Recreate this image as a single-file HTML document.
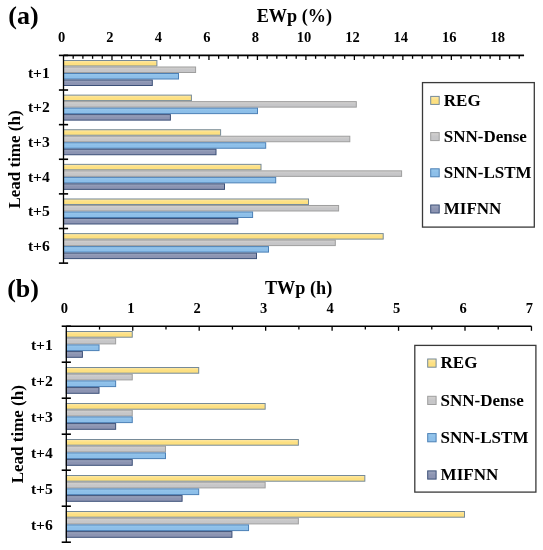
<!DOCTYPE html>
<html><head><meta charset="utf-8"><title>Chart</title>
<style>
html,body{margin:0;padding:0;background:#fff;}
body{width:543px;height:550px;overflow:hidden;}
svg{display:block;}
text{font-family:"Liberation Serif", "Times New Roman", serif;font-weight:bold;fill:#000;}
.tl{font-size:14.5px;}
.yl{font-size:15.6px;}
.lead{font-size:17px;}
.title{font-size:18.2px;}
.lab{font-size:26px;}
.lg{font-size:17px;}
</style></head><body>
<svg width="543" height="550" viewBox="0 0 543 550">
<defs>
<linearGradient id="gY" x1="0" y1="0" x2="0" y2="1"><stop offset="0" stop-color="#FDE9AA"/><stop offset="0.5" stop-color="#FDE081"/><stop offset="1" stop-color="#FDE081"/></linearGradient>
<linearGradient id="gG" x1="0" y1="0" x2="0" y2="1"><stop offset="0" stop-color="#D4D2D0"/><stop offset="0.5" stop-color="#C6C6C8"/><stop offset="1" stop-color="#C6C6C8"/></linearGradient>
<linearGradient id="gB" x1="0" y1="0" x2="0" y2="1"><stop offset="0" stop-color="#98C8EC"/><stop offset="0.5" stop-color="#8DBFE9"/><stop offset="1" stop-color="#8DBFE9"/></linearGradient>
<linearGradient id="gD" x1="0" y1="0" x2="0" y2="1"><stop offset="0" stop-color="#9EA7BF"/><stop offset="0.5" stop-color="#8C94B2"/><stop offset="1" stop-color="#8C94B2"/></linearGradient>
</defs>
<rect x="63.5" y="60.5" width="93.4" height="5.5" fill="url(#gY)" stroke="#768A98" stroke-width="1"/>
<rect x="63.5" y="67" width="132.1" height="5.5" fill="url(#gG)" stroke="#9E9E9E" stroke-width="1"/>
<rect x="63.5" y="73.5" width="115" height="5.5" fill="url(#gB)" stroke="#4C80B6" stroke-width="1"/>
<rect x="63.5" y="80" width="88.8" height="5.5" fill="url(#gD)" stroke="#3C5078" stroke-width="1"/>
<rect x="63.5" y="95.12" width="127.9" height="5.5" fill="url(#gY)" stroke="#768A98" stroke-width="1"/>
<rect x="63.5" y="101.62" width="292.8" height="5.5" fill="url(#gG)" stroke="#9E9E9E" stroke-width="1"/>
<rect x="63.5" y="108.12" width="194" height="5.5" fill="url(#gB)" stroke="#4C80B6" stroke-width="1"/>
<rect x="63.5" y="114.62" width="106.9" height="5.5" fill="url(#gD)" stroke="#3C5078" stroke-width="1"/>
<rect x="63.5" y="129.74" width="157.1" height="5.5" fill="url(#gY)" stroke="#768A98" stroke-width="1"/>
<rect x="63.5" y="136.24" width="286.3" height="5.5" fill="url(#gG)" stroke="#9E9E9E" stroke-width="1"/>
<rect x="63.5" y="142.74" width="202.2" height="5.5" fill="url(#gB)" stroke="#4C80B6" stroke-width="1"/>
<rect x="63.5" y="149.24" width="152.5" height="5.5" fill="url(#gD)" stroke="#3C5078" stroke-width="1"/>
<rect x="63.5" y="164.36" width="197.5" height="5.5" fill="url(#gY)" stroke="#768A98" stroke-width="1"/>
<rect x="63.5" y="170.86" width="338.1" height="5.5" fill="url(#gG)" stroke="#9E9E9E" stroke-width="1"/>
<rect x="63.5" y="177.36" width="212.2" height="5.5" fill="url(#gB)" stroke="#4C80B6" stroke-width="1"/>
<rect x="63.5" y="183.86" width="161" height="5.5" fill="url(#gD)" stroke="#3C5078" stroke-width="1"/>
<rect x="63.5" y="198.98" width="245" height="5.5" fill="url(#gY)" stroke="#768A98" stroke-width="1"/>
<rect x="63.5" y="205.48" width="275.1" height="5.5" fill="url(#gG)" stroke="#9E9E9E" stroke-width="1"/>
<rect x="63.5" y="211.98" width="189.1" height="5.5" fill="url(#gB)" stroke="#4C80B6" stroke-width="1"/>
<rect x="63.5" y="218.48" width="174.3" height="5.5" fill="url(#gD)" stroke="#3C5078" stroke-width="1"/>
<rect x="63.5" y="233.6" width="319.7" height="5.5" fill="url(#gY)" stroke="#768A98" stroke-width="1"/>
<rect x="63.5" y="240.1" width="271.8" height="5.5" fill="url(#gG)" stroke="#9E9E9E" stroke-width="1"/>
<rect x="63.5" y="246.6" width="205" height="5.5" fill="url(#gB)" stroke="#4C80B6" stroke-width="1"/>
<rect x="63.5" y="253.1" width="193" height="5.5" fill="url(#gD)" stroke="#3C5078" stroke-width="1"/>
<line x1="63.5" y1="55.4" x2="524.06" y2="55.4" stroke="#000" stroke-width="1.6"/>
<line x1="63.5" y1="55.4" x2="63.5" y2="263.12" stroke="#000" stroke-width="1.3"/>
<line x1="73.2" y1="55.4" x2="73.2" y2="58.8" stroke="#000" stroke-width="1.3"/>
<line x1="82.89" y1="55.4" x2="82.89" y2="58.8" stroke="#000" stroke-width="1.3"/>
<line x1="92.59" y1="55.4" x2="92.59" y2="58.8" stroke="#000" stroke-width="1.3"/>
<line x1="102.28" y1="55.4" x2="102.28" y2="58.8" stroke="#000" stroke-width="1.3"/>
<line x1="111.98" y1="55.4" x2="111.98" y2="60" stroke="#000" stroke-width="1.3"/>
<line x1="121.68" y1="55.4" x2="121.68" y2="58.8" stroke="#000" stroke-width="1.3"/>
<line x1="131.37" y1="55.4" x2="131.37" y2="58.8" stroke="#000" stroke-width="1.3"/>
<line x1="141.07" y1="55.4" x2="141.07" y2="58.8" stroke="#000" stroke-width="1.3"/>
<line x1="150.76" y1="55.4" x2="150.76" y2="58.8" stroke="#000" stroke-width="1.3"/>
<line x1="160.46" y1="55.4" x2="160.46" y2="60" stroke="#000" stroke-width="1.3"/>
<line x1="170.16" y1="55.4" x2="170.16" y2="58.8" stroke="#000" stroke-width="1.3"/>
<line x1="179.85" y1="55.4" x2="179.85" y2="58.8" stroke="#000" stroke-width="1.3"/>
<line x1="189.55" y1="55.4" x2="189.55" y2="58.8" stroke="#000" stroke-width="1.3"/>
<line x1="199.24" y1="55.4" x2="199.24" y2="58.8" stroke="#000" stroke-width="1.3"/>
<line x1="208.94" y1="55.4" x2="208.94" y2="60" stroke="#000" stroke-width="1.3"/>
<line x1="218.64" y1="55.4" x2="218.64" y2="58.8" stroke="#000" stroke-width="1.3"/>
<line x1="228.33" y1="55.4" x2="228.33" y2="58.8" stroke="#000" stroke-width="1.3"/>
<line x1="238.03" y1="55.4" x2="238.03" y2="58.8" stroke="#000" stroke-width="1.3"/>
<line x1="247.72" y1="55.4" x2="247.72" y2="58.8" stroke="#000" stroke-width="1.3"/>
<line x1="257.42" y1="55.4" x2="257.42" y2="60" stroke="#000" stroke-width="1.3"/>
<line x1="267.12" y1="55.4" x2="267.12" y2="58.8" stroke="#000" stroke-width="1.3"/>
<line x1="276.81" y1="55.4" x2="276.81" y2="58.8" stroke="#000" stroke-width="1.3"/>
<line x1="286.51" y1="55.4" x2="286.51" y2="58.8" stroke="#000" stroke-width="1.3"/>
<line x1="296.2" y1="55.4" x2="296.2" y2="58.8" stroke="#000" stroke-width="1.3"/>
<line x1="305.9" y1="55.4" x2="305.9" y2="60" stroke="#000" stroke-width="1.3"/>
<line x1="315.6" y1="55.4" x2="315.6" y2="58.8" stroke="#000" stroke-width="1.3"/>
<line x1="325.29" y1="55.4" x2="325.29" y2="58.8" stroke="#000" stroke-width="1.3"/>
<line x1="334.99" y1="55.4" x2="334.99" y2="58.8" stroke="#000" stroke-width="1.3"/>
<line x1="344.68" y1="55.4" x2="344.68" y2="58.8" stroke="#000" stroke-width="1.3"/>
<line x1="354.38" y1="55.4" x2="354.38" y2="60" stroke="#000" stroke-width="1.3"/>
<line x1="364.08" y1="55.4" x2="364.08" y2="58.8" stroke="#000" stroke-width="1.3"/>
<line x1="373.77" y1="55.4" x2="373.77" y2="58.8" stroke="#000" stroke-width="1.3"/>
<line x1="383.47" y1="55.4" x2="383.47" y2="58.8" stroke="#000" stroke-width="1.3"/>
<line x1="393.16" y1="55.4" x2="393.16" y2="58.8" stroke="#000" stroke-width="1.3"/>
<line x1="402.86" y1="55.4" x2="402.86" y2="60" stroke="#000" stroke-width="1.3"/>
<line x1="412.56" y1="55.4" x2="412.56" y2="58.8" stroke="#000" stroke-width="1.3"/>
<line x1="422.25" y1="55.4" x2="422.25" y2="58.8" stroke="#000" stroke-width="1.3"/>
<line x1="431.95" y1="55.4" x2="431.95" y2="58.8" stroke="#000" stroke-width="1.3"/>
<line x1="441.64" y1="55.4" x2="441.64" y2="58.8" stroke="#000" stroke-width="1.3"/>
<line x1="451.34" y1="55.4" x2="451.34" y2="60" stroke="#000" stroke-width="1.3"/>
<line x1="461.04" y1="55.4" x2="461.04" y2="58.8" stroke="#000" stroke-width="1.3"/>
<line x1="470.73" y1="55.4" x2="470.73" y2="58.8" stroke="#000" stroke-width="1.3"/>
<line x1="480.43" y1="55.4" x2="480.43" y2="58.8" stroke="#000" stroke-width="1.3"/>
<line x1="490.12" y1="55.4" x2="490.12" y2="58.8" stroke="#000" stroke-width="1.3"/>
<line x1="499.82" y1="55.4" x2="499.82" y2="60" stroke="#000" stroke-width="1.3"/>
<line x1="509.52" y1="55.4" x2="509.52" y2="58.8" stroke="#000" stroke-width="1.3"/>
<line x1="519.21" y1="55.4" x2="519.21" y2="58.8" stroke="#000" stroke-width="1.3"/>
<line x1="58.9" y1="55.4" x2="68.1" y2="55.4" stroke="#000" stroke-width="1.6"/>
<line x1="58.9" y1="90.02" x2="68.1" y2="90.02" stroke="#000" stroke-width="1.6"/>
<line x1="58.9" y1="124.64" x2="68.1" y2="124.64" stroke="#000" stroke-width="1.6"/>
<line x1="58.9" y1="159.26" x2="68.1" y2="159.26" stroke="#000" stroke-width="1.6"/>
<line x1="58.9" y1="193.88" x2="68.1" y2="193.88" stroke="#000" stroke-width="1.6"/>
<line x1="58.9" y1="228.5" x2="68.1" y2="228.5" stroke="#000" stroke-width="1.6"/>
<line x1="58.9" y1="263.12" x2="68.1" y2="263.12" stroke="#000" stroke-width="1.6"/>
<text x="61.5" y="42" class="tl" text-anchor="middle">0</text>
<text x="109.98" y="42" class="tl" text-anchor="middle">2</text>
<text x="158.46" y="42" class="tl" text-anchor="middle">4</text>
<text x="206.94" y="42" class="tl" text-anchor="middle">6</text>
<text x="255.42" y="42" class="tl" text-anchor="middle">8</text>
<text x="303.9" y="42" class="tl" text-anchor="middle">10</text>
<text x="352.38" y="42" class="tl" text-anchor="middle">12</text>
<text x="400.86" y="42" class="tl" text-anchor="middle">14</text>
<text x="449.34" y="42" class="tl" text-anchor="middle">16</text>
<text x="497.82" y="42" class="tl" text-anchor="middle">18</text>
<text x="49.8" y="77.71" class="yl" text-anchor="end">t+1</text>
<text x="49.8" y="112.33" class="yl" text-anchor="end">t+2</text>
<text x="49.8" y="146.95" class="yl" text-anchor="end">t+3</text>
<text x="49.8" y="181.57" class="yl" text-anchor="end">t+4</text>
<text x="49.8" y="216.19" class="yl" text-anchor="end">t+5</text>
<text x="49.8" y="250.81" class="yl" text-anchor="end">t+6</text>
<text transform="translate(20.3,159.5) rotate(-90)" x="0" y="0" class="lead" text-anchor="middle">Lead time (h)</text>
<text x="294.3" y="21.6" class="title" text-anchor="middle">EWp (%)</text>
<text x="8.3" y="23.5" class="lab">(a)</text>
<rect x="422.5" y="82.6" width="111.8" height="144.5" fill="#fff" stroke="#3a3a3a" stroke-width="1.3"/>
<rect x="430.7" y="96.4" width="8.5" height="8" fill="url(#gY)" stroke="#768A98" stroke-width="1"/>
<text x="443.8" y="105.8" class="lg">REG</text>
<rect x="430.7" y="132.6" width="8.5" height="8" fill="url(#gG)" stroke="#9E9E9E" stroke-width="1"/>
<text x="443.8" y="142" class="lg">SNN-Dense</text>
<rect x="430.7" y="168.8" width="8.5" height="8" fill="url(#gB)" stroke="#4C80B6" stroke-width="1"/>
<text x="443.8" y="178.2" class="lg">SNN-LSTM</text>
<rect x="430.7" y="205" width="8.5" height="8" fill="url(#gD)" stroke="#3C5078" stroke-width="1"/>
<text x="443.8" y="214.4" class="lg">MIFNN</text>
<rect x="66.3" y="331.5" width="65.95" height="5.7" fill="url(#gY)" stroke="#768A98" stroke-width="1"/>
<rect x="66.3" y="338.2" width="49.34" height="5.7" fill="url(#gG)" stroke="#9E9E9E" stroke-width="1"/>
<rect x="66.3" y="344.9" width="32.73" height="5.7" fill="url(#gB)" stroke="#4C80B6" stroke-width="1"/>
<rect x="66.3" y="351.6" width="16.11" height="5.7" fill="url(#gD)" stroke="#3C5078" stroke-width="1"/>
<rect x="66.3" y="367.5" width="132.4" height="5.7" fill="url(#gY)" stroke="#768A98" stroke-width="1"/>
<rect x="66.3" y="374.2" width="65.95" height="5.7" fill="url(#gG)" stroke="#9E9E9E" stroke-width="1"/>
<rect x="66.3" y="380.9" width="49.34" height="5.7" fill="url(#gB)" stroke="#4C80B6" stroke-width="1"/>
<rect x="66.3" y="387.6" width="32.73" height="5.7" fill="url(#gD)" stroke="#3C5078" stroke-width="1"/>
<rect x="66.3" y="403.5" width="198.85" height="5.7" fill="url(#gY)" stroke="#768A98" stroke-width="1"/>
<rect x="66.3" y="410.2" width="65.95" height="5.7" fill="url(#gG)" stroke="#9E9E9E" stroke-width="1"/>
<rect x="66.3" y="416.9" width="65.95" height="5.7" fill="url(#gB)" stroke="#4C80B6" stroke-width="1"/>
<rect x="66.3" y="423.6" width="49.34" height="5.7" fill="url(#gD)" stroke="#3C5078" stroke-width="1"/>
<rect x="66.3" y="439.5" width="232.07" height="5.7" fill="url(#gY)" stroke="#768A98" stroke-width="1"/>
<rect x="66.3" y="446.2" width="99.18" height="5.7" fill="url(#gG)" stroke="#9E9E9E" stroke-width="1"/>
<rect x="66.3" y="452.9" width="99.18" height="5.7" fill="url(#gB)" stroke="#4C80B6" stroke-width="1"/>
<rect x="66.3" y="459.6" width="65.95" height="5.7" fill="url(#gD)" stroke="#3C5078" stroke-width="1"/>
<rect x="66.3" y="475.5" width="298.53" height="5.7" fill="url(#gY)" stroke="#768A98" stroke-width="1"/>
<rect x="66.3" y="482.2" width="198.85" height="5.7" fill="url(#gG)" stroke="#9E9E9E" stroke-width="1"/>
<rect x="66.3" y="488.9" width="132.4" height="5.7" fill="url(#gB)" stroke="#4C80B6" stroke-width="1"/>
<rect x="66.3" y="495.6" width="115.79" height="5.7" fill="url(#gD)" stroke="#3C5078" stroke-width="1"/>
<rect x="66.3" y="511.5" width="398.2" height="5.7" fill="url(#gY)" stroke="#768A98" stroke-width="1"/>
<rect x="66.3" y="518.2" width="232.07" height="5.7" fill="url(#gG)" stroke="#9E9E9E" stroke-width="1"/>
<rect x="66.3" y="524.9" width="182.24" height="5.7" fill="url(#gB)" stroke="#4C80B6" stroke-width="1"/>
<rect x="66.3" y="531.6" width="165.62" height="5.7" fill="url(#gD)" stroke="#3C5078" stroke-width="1"/>
<line x1="66.3" y1="326.2" x2="531.45" y2="326.2" stroke="#000" stroke-width="1.6"/>
<line x1="66.3" y1="326.2" x2="66.3" y2="542.2" stroke="#000" stroke-width="1.3"/>
<line x1="99.53" y1="326.2" x2="99.53" y2="329.6" stroke="#000" stroke-width="1.3"/>
<line x1="132.75" y1="326.2" x2="132.75" y2="330.8" stroke="#000" stroke-width="1.3"/>
<line x1="165.98" y1="326.2" x2="165.98" y2="329.6" stroke="#000" stroke-width="1.3"/>
<line x1="199.2" y1="326.2" x2="199.2" y2="330.8" stroke="#000" stroke-width="1.3"/>
<line x1="232.43" y1="326.2" x2="232.43" y2="329.6" stroke="#000" stroke-width="1.3"/>
<line x1="265.65" y1="326.2" x2="265.65" y2="330.8" stroke="#000" stroke-width="1.3"/>
<line x1="298.88" y1="326.2" x2="298.88" y2="329.6" stroke="#000" stroke-width="1.3"/>
<line x1="332.1" y1="326.2" x2="332.1" y2="330.8" stroke="#000" stroke-width="1.3"/>
<line x1="365.33" y1="326.2" x2="365.33" y2="329.6" stroke="#000" stroke-width="1.3"/>
<line x1="398.55" y1="326.2" x2="398.55" y2="330.8" stroke="#000" stroke-width="1.3"/>
<line x1="431.78" y1="326.2" x2="431.78" y2="329.6" stroke="#000" stroke-width="1.3"/>
<line x1="465" y1="326.2" x2="465" y2="330.8" stroke="#000" stroke-width="1.3"/>
<line x1="498.23" y1="326.2" x2="498.23" y2="329.6" stroke="#000" stroke-width="1.3"/>
<line x1="531.45" y1="326.2" x2="531.45" y2="330.8" stroke="#000" stroke-width="1.3"/>
<line x1="61.7" y1="326.2" x2="70.9" y2="326.2" stroke="#000" stroke-width="1.6"/>
<line x1="61.7" y1="362.2" x2="70.9" y2="362.2" stroke="#000" stroke-width="1.6"/>
<line x1="61.7" y1="398.2" x2="70.9" y2="398.2" stroke="#000" stroke-width="1.6"/>
<line x1="61.7" y1="434.2" x2="70.9" y2="434.2" stroke="#000" stroke-width="1.6"/>
<line x1="61.7" y1="470.2" x2="70.9" y2="470.2" stroke="#000" stroke-width="1.6"/>
<line x1="61.7" y1="506.2" x2="70.9" y2="506.2" stroke="#000" stroke-width="1.6"/>
<line x1="61.7" y1="542.2" x2="70.9" y2="542.2" stroke="#000" stroke-width="1.6"/>
<text x="64.3" y="313" class="tl" text-anchor="middle">0</text>
<text x="130.75" y="313" class="tl" text-anchor="middle">1</text>
<text x="197.2" y="313" class="tl" text-anchor="middle">2</text>
<text x="263.65" y="313" class="tl" text-anchor="middle">3</text>
<text x="330.1" y="313" class="tl" text-anchor="middle">4</text>
<text x="396.55" y="313" class="tl" text-anchor="middle">5</text>
<text x="463" y="313" class="tl" text-anchor="middle">6</text>
<text x="529.45" y="313" class="tl" text-anchor="middle">7</text>
<text x="52.8" y="349.5" class="yl" text-anchor="end">t+1</text>
<text x="52.8" y="385.5" class="yl" text-anchor="end">t+2</text>
<text x="52.8" y="421.5" class="yl" text-anchor="end">t+3</text>
<text x="52.8" y="457.5" class="yl" text-anchor="end">t+4</text>
<text x="52.8" y="493.5" class="yl" text-anchor="end">t+5</text>
<text x="52.8" y="529.5" class="yl" text-anchor="end">t+6</text>
<text transform="translate(23,434.2) rotate(-90)" x="0" y="0" class="lead" text-anchor="middle">Lead time (h)</text>
<text x="298.6" y="293.6" class="title" text-anchor="middle">TWp (h)</text>
<text x="7.2" y="296.6" class="lab">(b)</text>
<rect x="414.8" y="345.4" width="121.1" height="146.7" fill="#fff" stroke="#3a3a3a" stroke-width="1.3"/>
<rect x="427.7" y="359" width="8.4" height="8.2" fill="url(#gY)" stroke="#768A98" stroke-width="1"/>
<text x="440.6" y="368.4" class="lg">REG</text>
<rect x="427.7" y="396.3" width="8.4" height="8.2" fill="url(#gG)" stroke="#9E9E9E" stroke-width="1"/>
<text x="440.6" y="405.7" class="lg">SNN-Dense</text>
<rect x="427.7" y="433.6" width="8.4" height="8.2" fill="url(#gB)" stroke="#4C80B6" stroke-width="1"/>
<text x="440.6" y="443" class="lg">SNN-LSTM</text>
<rect x="427.7" y="470.9" width="8.4" height="8.2" fill="url(#gD)" stroke="#3C5078" stroke-width="1"/>
<text x="440.6" y="480.3" class="lg">MIFNN</text>
</svg>
</body></html>
